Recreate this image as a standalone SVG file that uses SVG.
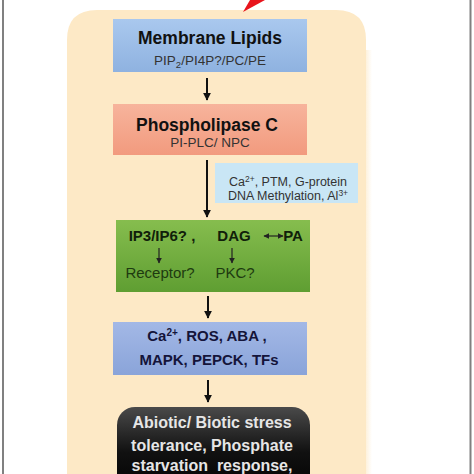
<svg xmlns="http://www.w3.org/2000/svg" width="474" height="474" viewBox="0 0 474 474">
<defs>
<linearGradient id="gBlue" x1="0" y1="0" x2="0" y2="1"><stop offset="0" stop-color="#a9c8ee"/><stop offset="1" stop-color="#8fb2e0"/></linearGradient>
<linearGradient id="gSalmon" x1="0" y1="0" x2="0" y2="1"><stop offset="0" stop-color="#f7b49c"/><stop offset="1" stop-color="#f29a7e"/></linearGradient>
<linearGradient id="gGreen" x1="0" y1="0" x2="0" y2="1"><stop offset="0" stop-color="#86bd4e"/><stop offset="1" stop-color="#5f9e32"/></linearGradient>
<linearGradient id="gBlue2" x1="0" y1="0" x2="0" y2="1"><stop offset="0" stop-color="#a3b8e6"/><stop offset="1" stop-color="#8aa4d9"/></linearGradient>
<linearGradient id="gBlack" x1="0" y1="0" x2="0" y2="1"><stop offset="0" stop-color="#4a4a4a"/><stop offset="0.5" stop-color="#111"/><stop offset="1" stop-color="#000"/></linearGradient>
<linearGradient id="gFade" x1="0" y1="0" x2="1" y2="0"><stop offset="0" stop-color="#fde9c6" stop-opacity="0.6"/><stop offset="1" stop-color="#fde9c6" stop-opacity="0"/></linearGradient>
<marker id="ah" viewBox="0 0 10 10" refX="9" refY="5" markerWidth="4" markerHeight="4" orient="auto"><path d="M0,0 L10,5 L0,10 z" fill="#111"/></marker>
<marker id="ahs" viewBox="0 0 10 10" refX="9" refY="5" markerWidth="5" markerHeight="5" orient="auto"><path d="M0,0 L10,5 L0,10 z" fill="#222"/></marker>
<marker id="ahsr" viewBox="0 0 10 10" refX="1" refY="5" markerWidth="5" markerHeight="5" orient="auto"><path d="M10,0 L0,5 L10,10 z" fill="#222"/></marker>
</defs>
<style>
text{font-family:"Liberation Sans",Arial,sans-serif;text-anchor:middle}
.b{font-weight:bold}
.t1{font-size:17.5px;fill:#111}
.t2{font-size:13.5px;fill:#333}
.s{font-size:12.5px;fill:#333}
.g{font-size:15px}
.w{font-size:16px;fill:#e6e6e6;font-weight:bold}
.conn{stroke:#111;stroke-width:2;fill:none}
.thin{stroke:#222;stroke-width:1.2;fill:none}
</style>
<rect x="0" y="0" width="474" height="474" fill="#fff"/>
<line x1="3" y1="0" x2="3" y2="474" stroke="#808080" stroke-width="2"/>
<line x1="470.5" y1="0" x2="470.5" y2="474" stroke="#808080" stroke-width="2"/>
<g id="background">
<path d="M67,480 V40 Q67,10 97,10 H336 Q366,10 366,40 V480 Z" fill="#fde9c6"/>
<rect x="366" y="50" width="6" height="430" fill="url(#gFade)"/>
<polygon points="243,12 250,0 265,0" fill="#e8141c"/>
</g>
<g id="connectors">
<line class="conn" x1="207" y1="78" x2="207" y2="100" marker-end="url(#ah)"/>
<line class="conn" x1="207" y1="160" x2="207" y2="217" marker-end="url(#ah)"/>
<line class="conn" x1="208" y1="296" x2="208" y2="318" marker-end="url(#ah)"/>
<line class="conn" x1="208" y1="380" x2="208" y2="402" marker-end="url(#ah)"/>
</g>
<g id="membrane-lipids">
<rect x="113" y="19" width="194" height="53" fill="url(#gBlue)"/>
<text class="b t1" x="210" y="44">Membrane Lipids</text>
<text class="t2" x="210" y="65">PIP<tspan font-size="9.5" dy="3">2</tspan><tspan dy="-3">/PI4P?/PC/PE</tspan></text>
</g>
<g id="phospholipase-c">
<rect x="113" y="104" width="194" height="51" fill="url(#gSalmon)"/>
<text class="b t1" x="207" y="131">Phospholipase C</text>
<text class="t2" x="210" y="147">PI-PLC/ NPC</text>
</g>
<g id="modulators">
<rect x="215" y="163" width="143" height="40" fill="#c9e6f5"/>
<text class="s" x="288" y="186">Ca<tspan font-size="8.5" dy="-4">2+</tspan><tspan dy="4">, PTM, G-protein</tspan></text>
<text class="s" x="288" y="200">DNA Methylation, Al<tspan font-size="8.5" dy="-4">3+</tspan></text>
</g>
<g id="second-messengers">
<rect x="116" y="220" width="194" height="72" fill="url(#gGreen)"/>
<text class="b g" x="162" y="241" fill="#10200a" font-size="16">IP3/IP6? ,</text>
<text class="b g" x="234" y="241" fill="#10200a" font-size="16">DAG</text>
<line class="thin" x1="264" y1="236" x2="283" y2="236" marker-start="url(#ahsr)" marker-end="url(#ahs)"/>
<text class="b g" x="293" y="241" fill="#10200a" font-size="16">PA</text>
<line class="thin" x1="159" y1="248" x2="159" y2="263" marker-end="url(#ahs)"/>
<line class="thin" x1="232" y1="248" x2="232" y2="263" marker-end="url(#ahs)"/>
<text class="g" x="160" y="278" fill="#1e3a10">Receptor?</text>
<text class="g" x="235" y="278" fill="#1e3a10">PKC?</text>
</g>
<g id="downstream">
<rect x="113" y="322" width="194" height="53" fill="url(#gBlue2)"/>
<text class="b g" x="207" y="341" fill="#14143a">Ca<tspan font-size="10" dy="-5">2+</tspan><tspan dy="5">, ROS, ABA ,</tspan></text>
<text class="b g" x="209" y="365" fill="#14143a">MAPK, PEPCK, TFs</text>
</g>
<g id="responses">
<rect x="117" y="407" width="193" height="90" rx="18" fill="url(#gBlack)"/>
<text class="w" x="212" y="428">Abiotic/ Biotic stress</text>
<text class="w" x="212" y="451">tolerance, Phosphate</text>
<text class="w" x="212" y="471" xml:space="preserve">starvation  response,</text>
</g>
</svg>
